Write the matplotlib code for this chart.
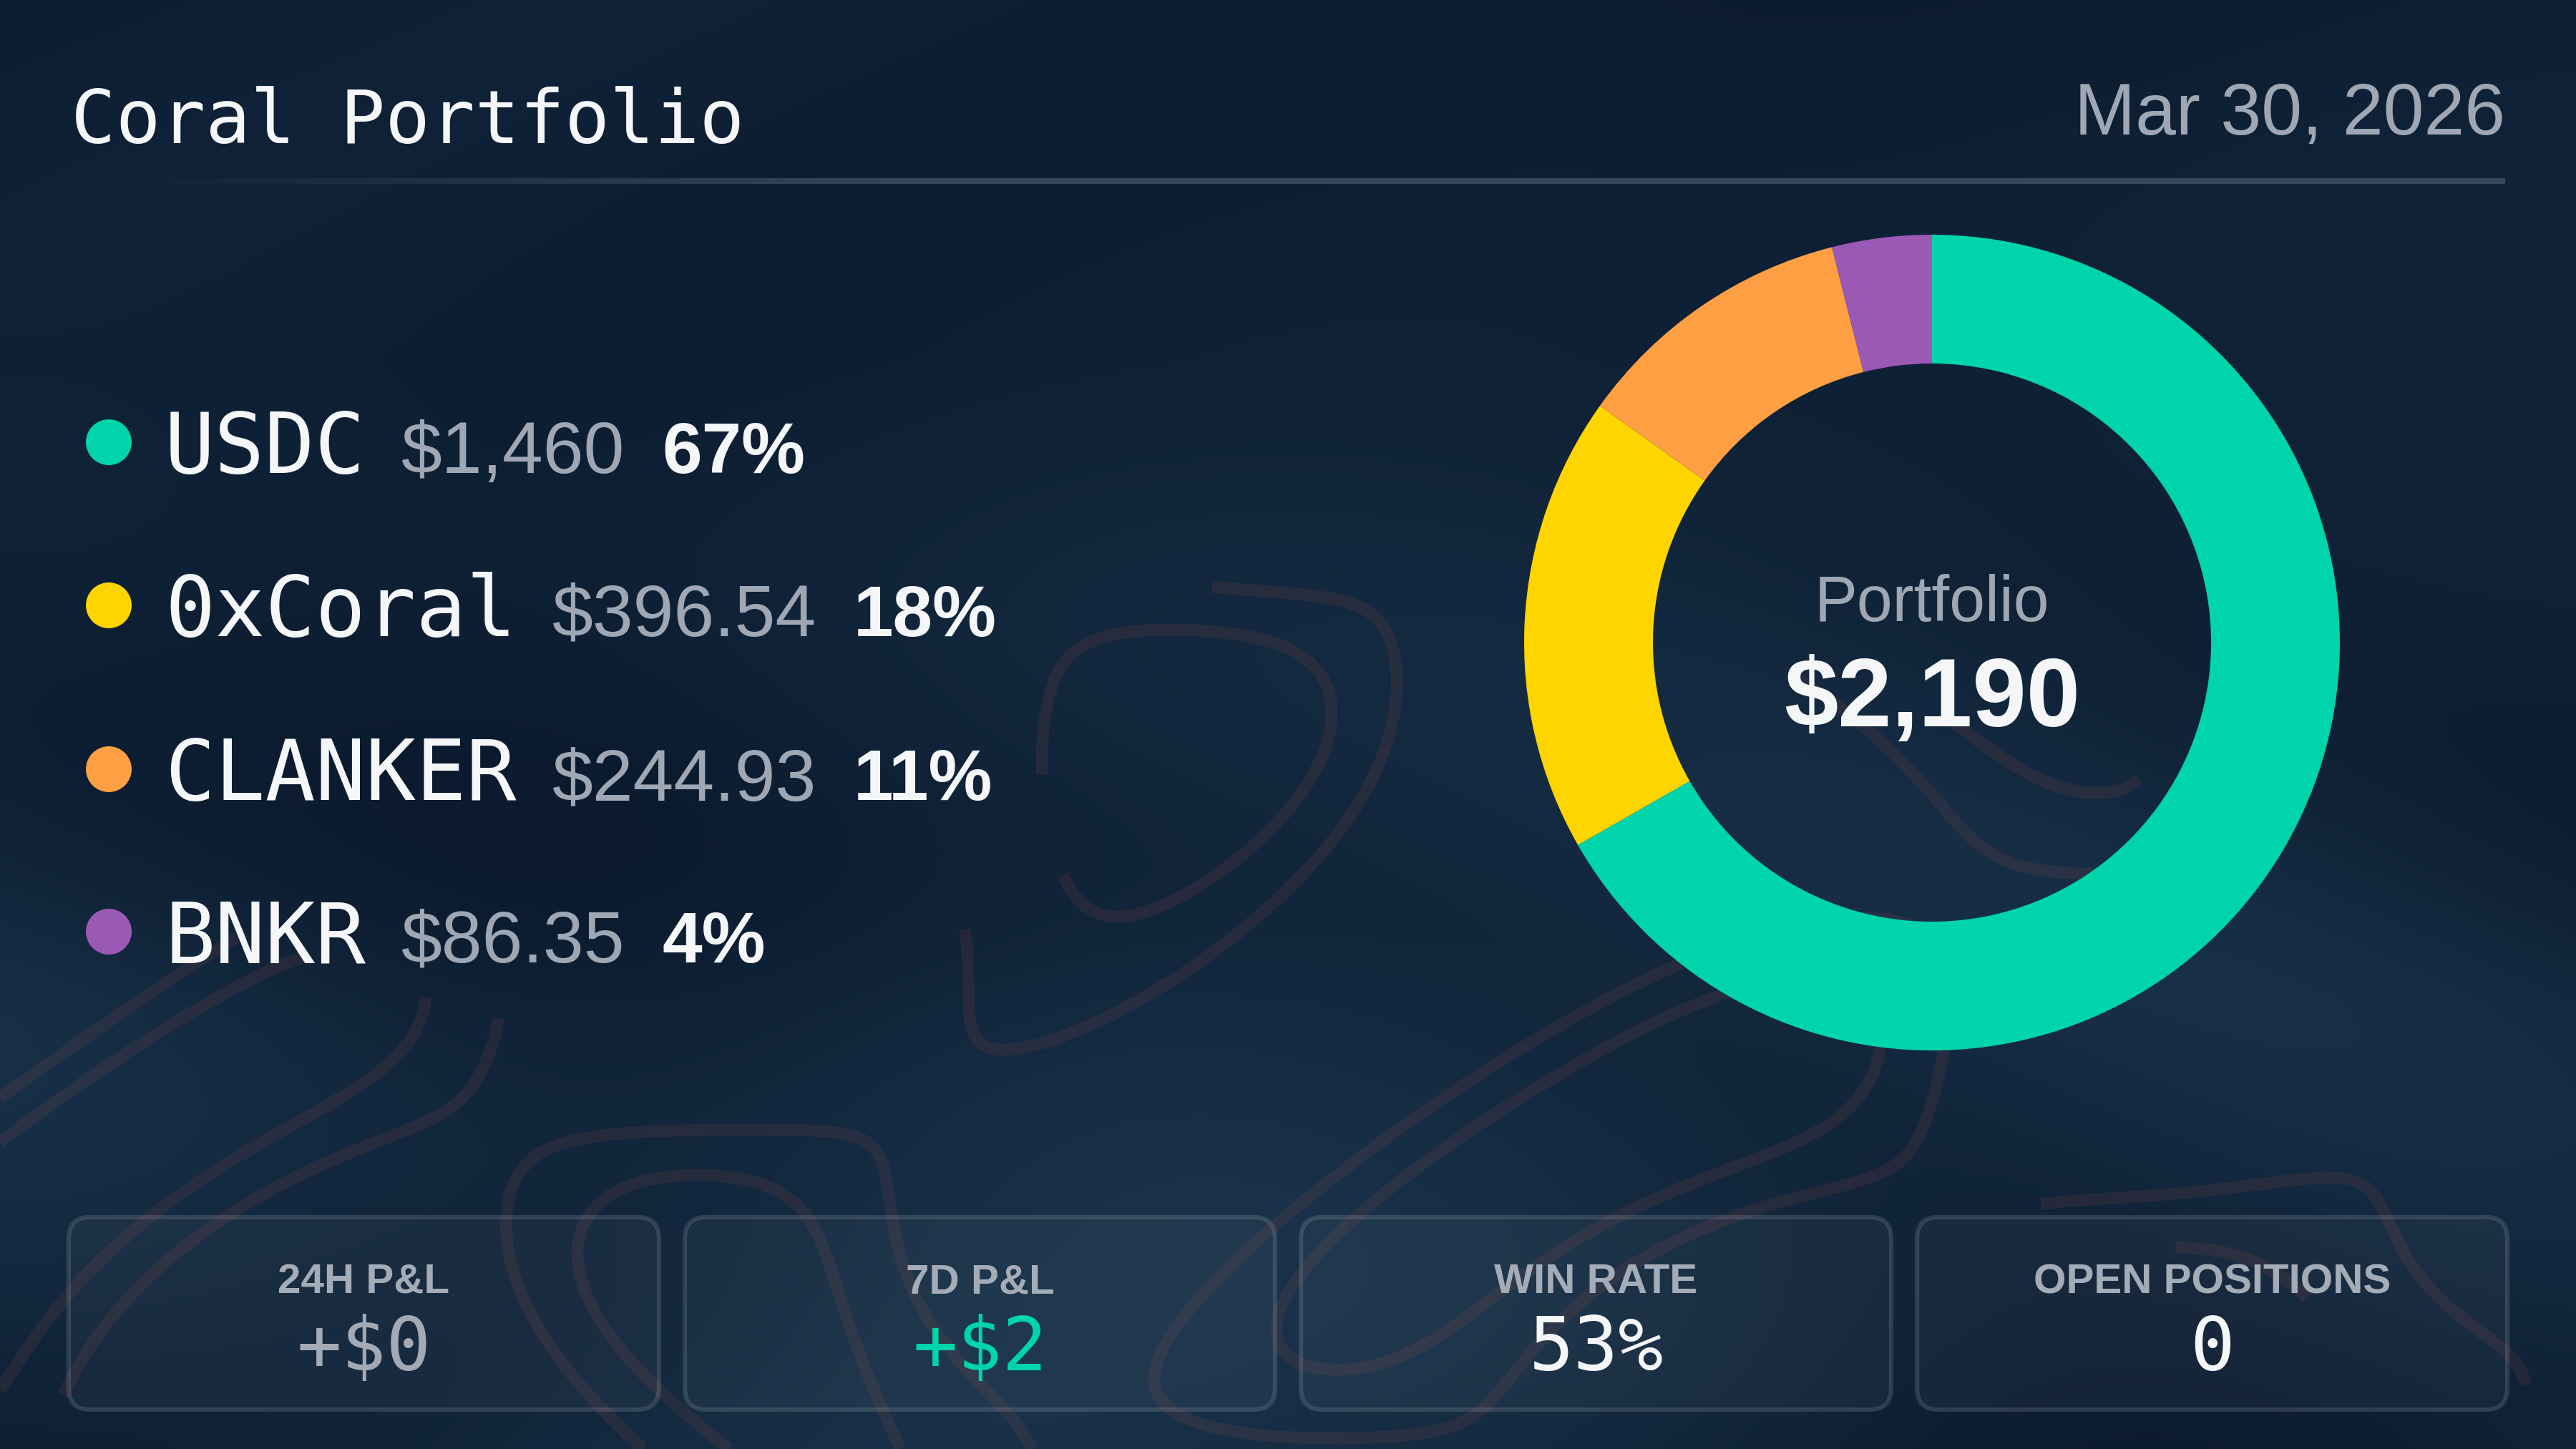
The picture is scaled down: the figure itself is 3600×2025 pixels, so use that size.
import numpy as np
import matplotlib.pyplot as plt
from matplotlib.patches import FancyBboxPatch, Circle
from matplotlib.collections import LineCollection
from matplotlib.colors import to_rgb

# ---------------------------------------------------------------
# Data
# ---------------------------------------------------------------
title = "Coral Portfolio"
date_label = "Mar 30, 2026"

tokens = ["USDC", "0xCoral", "CLANKER", "BNKR"]
usd_values = [1460.00, 396.54, 244.93, 86.35]
value_labels = ["$1,460", "$396.54", "$244.93", "$86.35"]
share_labels = ["67%", "18%", "11%", "4%"]
token_colors = ["#00d4aa", "#ffd500", "#ff9f43", "#9b59b6"]

center_caption = "Portfolio"
total_label = "$2,190"

card_titles = ["24H P&L", "7D P&L", "WIN RATE", "OPEN POSITIONS"]
card_values = ["+$0", "+$2", "53%", "0"]
card_value_colors = ["#a3aab5", "#00d4aa", "#f4f6f8", "#f4f6f8"]

# ---------------------------------------------------------------
# Canvas (pixel coordinates, y down)
# ---------------------------------------------------------------
W, H = 3600, 2025
DPI = 300
MONO = ["DejaVu Sans Mono"]
SANS = ["Liberation Sans", "DejaVu Sans"]
WHITE = "#f4f6f8"
GREY = "#9ea7b3"

fig = plt.figure(figsize=(W / DPI, H / DPI), dpi=DPI)
ax = fig.add_axes([0, 0, 1, 1])
ax.set_xlim(0, W)
ax.set_ylim(H, 0)
ax.axis("off")

# background: dark navy with soft slate swirls
gx = np.linspace(0, W, 480)
gy = np.linspace(0, H, 270)
X, Y = np.meshgrid(gx, gy)
base = np.array(to_rgb("#0b1a2e"))
slate = np.array(to_rgb("#1c3850"))
swirl = np.sin(X / 520 + 1.6 * np.sin(Y / 380)) * np.cos(Y / 330 - 0.9 * np.cos(X / 610))
lower = np.clip((Y - 500) / 900, 0, 1)
amt = (0.5 + 0.5 * swirl) * (0.25 + 0.55 * lower)
amt = amt + 0.12 * np.exp(-((X - 2700) ** 2 + (Y - 900) ** 2) / (2 * 600 ** 2))
img = base[None, None, :] * (1 - amt[..., None]) + slate[None, None, :] * amt[..., None]
ax.imshow(img, extent=(0, W, H, 0), interpolation="bilinear", zorder=0, aspect="auto")

# faint coral contour lines
ripple = np.sin(X / 170 + 2.2 * np.sin(Y / 240)) + np.cos(Y / 140 + 1.7 * np.sin(X / 300))
mask = (0.5 + 0.5 * swirl) * lower < 0.35
ax.contour(X, Y, np.ma.masked_where(mask, ripple), levels=[0.2, 1.1],
           colors="#c0504d", linewidths=4, alpha=0.12, zorder=1)

# header
ax.text(99, 200, title, fontsize=25, family=MONO, color=WHITE, va="baseline", ha="left", zorder=5)
ax.text(3501, 188, date_label, fontsize=24.5, family=SANS, color=GREY, va="baseline", ha="right", zorder=5)

xs = np.linspace(99, 3501, 300)
segs = [[(xs[i], 253), (xs[i + 1], 253)] for i in range(len(xs) - 1)]
alphas = np.clip((xs[:-1] - 150) / 1100, 0, 1) * 0.28
lc = LineCollection(segs, colors=[(0.6, 0.68, 0.76, a) for a in alphas], linewidths=2, zorder=4)
ax.add_collection(lc)

# legend rows
fig.canvas.draw()
renderer = fig.canvas.get_renderer()
row_base = [661, 889, 1118, 1345]
for i, tok in enumerate(tokens):
    yb = row_base[i]
    ax.add_patch(Circle((152, yb - 43), 32, color=token_colors[i], zorder=5, lw=0))
    t1 = ax.text(230, yb, tok, fontsize=28, family=MONO, color=WHITE, va="baseline", zorder=5)
    x1 = t1.get_window_extent(renderer).x1
    t2 = ax.text(x1 + 50, yb, value_labels[i], fontsize=24.5, family=SANS, color=GREY,
                 va="baseline", zorder=5)
    x2 = t2.get_window_extent(renderer).x1
    ax.text(x2 + 52, yb, share_labels[i], fontsize=24, family=SANS, weight="bold",
            color=WHITE, va="baseline", zorder=5)

# donut chart
cx, cy, S = 2700, 898, 1240
pax = fig.add_axes([(cx - S / 2) / W, 1 - (cy + S / 2) / H, S / W, S / H])
pax.pie(usd_values, colors=token_colors, startangle=90, counterclock=False, radius=570,
        wedgeprops=dict(width=180, edgecolor="none", linewidth=0))
pax.set_xlim(-S / 2, S / 2)
pax.set_ylim(-S / 2, S / 2)
pax.set_aspect("equal")
pax.axis("off")

ax.text(cx, 868, center_caption, fontsize=21.5, family=SANS, color=GREY, ha="center", va="baseline", zorder=5)
ax.text(cx, 1015, total_label, fontsize=32.5, family=SANS, weight="bold", color=WHITE,
        ha="center", va="baseline", zorder=5)

# stat cards
card_w, card_h, card_gap = 825, 269, 36
for i, (lab, val) in enumerate(zip(card_titles, card_values)):
    left = 96 + i * (card_w + card_gap)
    box = FancyBboxPatch((left, 1701), card_w, card_h,
                         boxstyle="round,pad=0,rounding_size=30",
                         facecolor=(1, 1, 1, 0.035), edgecolor=(1, 1, 1, 0.12),
                         linewidth=1.5, zorder=3)
    ax.add_patch(box)
    mid = left + card_w / 2
    ax.text(mid, 1807, lab, fontsize=14, family=SANS, weight="bold", color="#a4acb8",
            ha="center", va="baseline", zorder=5)
    ax.text(mid, 1915, val, fontsize=25, family=MONO, color=card_value_colors[i],
            ha="center", va="baseline", zorder=5)

fig.savefig("out.png", dpi=DPI, facecolor="#0b1a2e")
